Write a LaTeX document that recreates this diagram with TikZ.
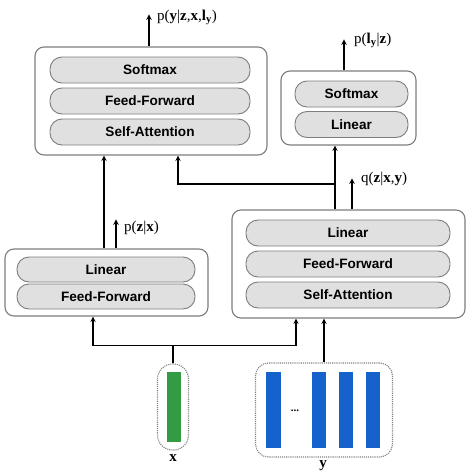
\documentclass[tikz,border=0pt]{standalone}
\usepackage{fontspec}
\setmainfont{Liberation Serif}
\setsansfont{Liberation Sans}
\usetikzlibrary{positioning}

\definecolor{layerGray}{RGB}{224,224,224}
\definecolor{frameGray}{RGB}{125,125,125}
\definecolor{xGreen}{RGB}{50,155,68}
\definecolor{yBlue}{RGB}{22,98,204}

\tikzstyle{outerNode} = [rectangle, rounded corners=9pt, draw=frameGray, line width=1.1pt, fill=white]
\tikzstyle{layerNode} = [rectangle, rounded corners=12pt, draw=frameGray, line width=0.9pt, fill=layerGray, minimum height=26pt, inner sep=0pt, text centered, font=\sffamily\bfseries\fontsize{13.6}{15}\selectfont]
\tikzstyle{arrow} = [line width=1.4pt,->,>=stealth]
\tikzstyle{probLabel} = [anchor=west, inner sep=0pt, font=\fontsize{15}{17}\selectfont]
\tikzstyle{inputBox} = [rectangle, rounded corners=13pt, draw=gray, densely dotted, line width=1.1pt]
\tikzstyle{barNode} = [rectangle, inner sep=0pt, minimum width=14.5pt, minimum height=76pt]

\begin{document}
\begin{tikzpicture}[x=1pt, y=-1pt, node distance=31pt]
  \useasboundingbox (0,0) rectangle (474,474);

  % decoder
  \node (decBox)[outerNode, minimum width=232pt, minimum height=108pt] at (151,101) {};
  \node (decSoftmax)[layerNode, minimum width=200pt] at (150,70) {Softmax};
  \node (decFF)[layerNode, minimum width=200pt, below of=decSoftmax] {Feed-Forward};
  \node (decSA)[layerNode, minimum width=200pt, below of=decFF] {Self-Attention};

  % length predictor
  \node (lenBox)[outerNode, minimum width=135pt, minimum height=74pt] at (348.5,108) {};
  \node (lenSoftmax)[layerNode, minimum width=113pt] at (351.5,94) {Softmax};
  \node (lenLinear)[layerNode, minimum width=113pt, below of=lenSoftmax, node distance=30.5pt] {Linear};

  % prior
  \node (priorBox)[outerNode, minimum width=203pt, minimum height=67pt] at (106.5,282.5) {};
  \node (priorLinear)[layerNode, minimum width=178pt, minimum height=25pt] at (106,269.5) {Linear};
  \node (priorFF)[layerNode, minimum width=178pt, minimum height=25pt, below of=priorLinear, node distance=27pt] {Feed-Forward};

  % posterior
  \node (postBox)[outerNode, minimum width=233pt, minimum height=108pt] at (348.5,264) {};
  \node (postLinear)[layerNode, minimum width=204pt] at (348,233) {Linear};
  \node (postFF)[layerNode, minimum width=204pt, below of=postLinear] {Feed-Forward};
  \node (postSA)[layerNode, minimum width=204pt, below of=postFF] {Self-Attention};

  % inputs
  \node (xBox)[inputBox, minimum width=31pt, minimum height=86pt, rounded corners=15pt] at (173,407) {};
  \node (xBar)[barNode, fill=xGreen, minimum width=14pt, minimum height=70pt] at (174,407) {};
  \node (xLabel)[font=\bfseries\fontsize{15}{17}\selectfont] at (173,458) {x};

  \node (yBox)[inputBox, minimum width=137pt, minimum height=94pt] at (324,410) {};
  \node (yBar1)[barNode, fill=yBlue] at (273.5,410) {};
  \node (yDots)[font=\bfseries\fontsize{11}{12}\selectfont] at (295,411) {...};
  \node (yBar2)[barNode, fill=yBlue] at (319,410) {};
  \node (yBar3)[barNode, fill=yBlue, right of=yBar2, node distance=27pt] {};
  \node (yBar4)[barNode, fill=yBlue, right of=yBar3, node distance=27pt] {};
  \node (yLabel)[font=\bfseries\fontsize{15}{17}\selectfont] at (323,466) {y};

  % inputs to encoders
  \draw [arrow] (xBox.north) -- ++(0,-18) coordinate (xJoin) -| ([xshift=-13.5pt]priorBox.south);
  \draw [arrow] (xJoin) -| ([xshift=-52.5pt]postBox.south);
  \draw [arrow] (yBox.north) -- (yBox.north |- postBox.south);

  % latent to decoder and length predictor
  \draw [arrow] ([xshift=-2.5pt]priorBox.north) -- ([xshift=-2.5pt]priorBox.north |- decBox.south);
  \draw [arrow] ([xshift=-13.5pt]postBox.north) -- ([xshift=-13.5pt]lenBox.south) coordinate[pos=0.4] (zJoin);
  \draw [arrow] (zJoin) -| ([xshift=27pt]decBox.south);

  % outputs
  \draw [arrow] ([xshift=-2pt]decBox.north) -- ++(0,-32) coordinate (pyOut);
  \node (pyLabel)[probLabel] at ([xshift=8pt,yshift=-3pt]pyOut) {p(\textbf{y}|\textbf{z},\textbf{x},\textbf{l}\textsubscript{\textbf{y}})};
  \draw [arrow] ([xshift=-4.5pt]lenBox.north) -- ++(0,-31) coordinate (lenOut);
  \node (lenLabel)[probLabel] at ([xshift=10pt,yshift=-1pt]lenOut) {p(\textbf{l}\textsubscript{\textbf{y}}|\textbf{z})};
  \draw [arrow] ([xshift=9.5pt]priorBox.north) -- ++(0,-29) coordinate (priorOut);
  \node (priorLabel)[probLabel] at ([xshift=8pt,yshift=-8pt]priorOut) {p(\textbf{z}|\textbf{x})};
  \draw [arrow] ([xshift=3.5pt]postBox.north) -- ++(0,-31) coordinate (postOut);
  \node (postLabel)[probLabel] at ([xshift=9pt,yshift=0pt]postOut) {q(\textbf{z}|\textbf{x},\textbf{y})};
\end{tikzpicture}
\end{document}
